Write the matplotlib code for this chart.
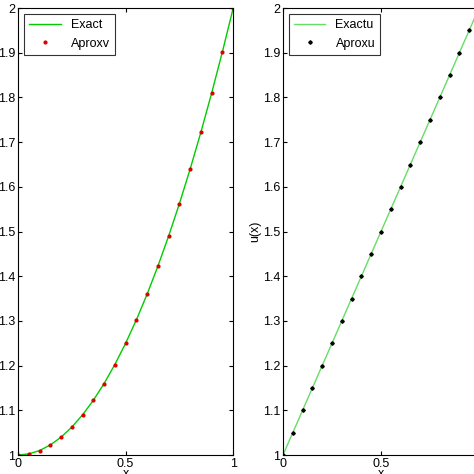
import matplotlib
matplotlib.use("Agg")
import matplotlib.pyplot as plt

x_pts = [0,0.05,0.1,0.15,0.2,0.25,0.3,0.35,0.4,0.45,0.5,0.55,0.6,0.65,0.7,0.75,0.8,0.85,0.9,0.95,1.0]
v_pts = [1.0,1.0025,1.01,1.0225,1.04,1.0625,1.09,1.1225,1.16,1.2025,1.25,1.3025,1.36,1.4225,1.49,1.5625,1.64,1.7225,1.81,1.9025,2.0]
u_pts = [1.0,1.05,1.1,1.15,1.2,1.25,1.3,1.35,1.4,1.45,1.5,1.55,1.6,1.65,1.7,1.75,1.8,1.85,1.9,1.95,2.0]
yticks = [1,1.1,1.2,1.3,1.4,1.5,1.6,1.7,1.8,1.9,2]
ytlabels = ["1","1.1","1.2","1.3","1.4","1.5","1.6","1.7","1.8","1.9","2"]
xticks = [0,0.5,1]
xtlabels = ["0","0.5","1"]

plt.rcParams['font.family'] = ['Liberation Sans', 'DejaVu Sans']
plt.rcParams['font.size'] = 9
fig = plt.figure(figsize=(4.74,4.74), dpi=100)
ax1 = fig.add_axes([0.038,0.040,0.454,0.943])
ax2 = fig.add_axes([0.597,0.040,0.4135,0.943])

ax1.plot(x_pts, v_pts, color='#00cc00', lw=1, label='Exact')
ax1.plot(x_pts, v_pts, 'o', color='#dd0000', ms=2, ls='none', label='Aproxv')
ax2.plot(x_pts, u_pts, color='#66dd66', lw=1, label='Exactu')
ax2.plot(x_pts, u_pts, 'D', color='black', ms=1.8, ls='none', label='Aproxu')
ax2.set_ylabel('u(x)', labelpad=1)

for ax in (ax1, ax2):
    ax.set_xlim(0,1); ax.set_ylim(1,2)
    ax.set_yticks(yticks); ax.set_yticklabels(ytlabels)
    ax.set_xticks(xticks); ax.set_xticklabels(xtlabels)
    ax.tick_params(direction='in', length=3, pad=2, top=True, right=True)
    ax.set_xlabel('x', labelpad=-1)
    leg = ax.legend(loc='upper left', fancybox=False, edgecolor='black', fontsize=9, handlelength=2.5)
    leg.get_frame().set_linewidth(0.8)

fig.savefig('out.png', dpi=100)
